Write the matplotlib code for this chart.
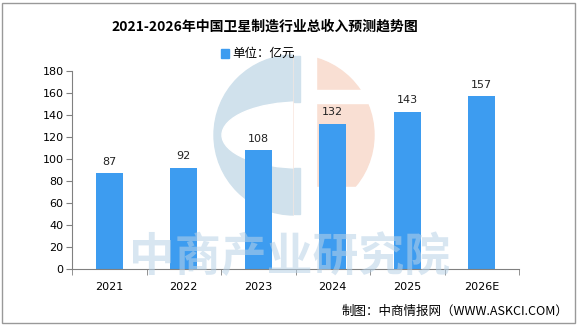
import matplotlib
matplotlib.use("Agg")
import matplotlib.pyplot as plt
from matplotlib.patches import Wedge, Rectangle, Ellipse
import numpy as np

plt.rcParams['font.family'] = ['Noto Sans CJK SC', 'DejaVu Sans']

years = ["2021", "2022", "2023", "2024", "2025", "2026E"]
revenue = [87, 92, 108, 132, 143, 157]
yticks = [0, 20, 40, 60, 80, 100, 120, 140, 160, 180]

BAR = "#3d9cf0"
GREY = "#808080"
LOGO_B = "#d0e1ec"
LOGO_O = "#f9dfd3"

fig = plt.figure(figsize=(5.85, 3.27), dpi=100)
W, H = 585, 327

# 背景水印 logo (像素坐标, y 向下)
wax = fig.add_axes([0, 0, 1, 1], zorder=0)
wax.set_xlim(0, W); wax.set_ylim(H, 0); wax.axis("off")
cx, cy, r = 294, 135, 80
wax.add_patch(Wedge((cx, cy), r, 90, 270, color=LOGO_B))
wax.add_patch(Ellipse((300, cy), 156, 66, color="white"))
wax.add_patch(Wedge((cx, cy), r, -90, 90, color=LOGO_O))
wax.add_patch(Rectangle((cx, 40), 22, 190, color="white"))
wax.add_patch(Rectangle((316, 90), 52, 13, color="white"))
wax.add_patch(Rectangle((cx + 6, 187), 100, 40, color="white"))
wax.add_patch(Rectangle((cx, cy - r + 1), 6, 102 - (cy - r + 1), color=LOGO_B))
wax.add_patch(Rectangle((cx, 168), 6, cy + r - 1 - 168, color=LOGO_B))

ax = fig.add_axes([72 / W, 1 - 269 / H, (519 - 72) / W, (269 - 71) / H], zorder=1)
ax.patch.set_alpha(0)
x = np.arange(len(years))
ax.bar(x, revenue, width=0.36, color=BAR, zorder=2)
for xi, v in zip(x, revenue):
    ax.text(xi, v + 6, str(v), ha="center", va="bottom", fontsize=8,
            family="DejaVu Sans", color="#222222")

ax.set_xlim(-0.5, len(years) - 0.5)
ax.set_ylim(0, 180)
ax.set_yticks(yticks)
ax.set_yticklabels([str(t) for t in yticks], fontsize=8, family="DejaVu Sans")
ax.set_xticks(x)
ax.set_xticklabels(years, fontsize=8, family="DejaVu Sans")
ax.tick_params(axis="x", length=0, pad=9)
ax.set_xticks(np.arange(-0.5, len(years)), minor=True)
ax.tick_params(axis="x", which="minor", length=4, color=GREY)
ax.tick_params(axis="y", length=4, color=GREY, pad=2)
for s in ["top", "right"]:
    ax.spines[s].set_visible(False)
for s in ["left", "bottom"]:
    ax.spines[s].set_color(GREY)

# 文字水印
fig.text(290 / W, 1 - 258 / H, "中商产业研究院", ha="center", va="center",
         fontsize=33, fontweight="bold", color="#b8d2e7", alpha=0.55, zorder=3)

fig.text(265 / W, 1 - 27 / H, "2021-2026年中国卫星制造行业总收入预测趋势图",
         ha="center", va="center", fontsize=10, fontweight="bold")
fig.patches.append(Rectangle((221 / W, 1 - 58 / H), 8 / W, 9 / H, color=BAR,
                             transform=fig.transFigure, figure=fig))
fig.text(232 / W, 1 - 53 / H, "单位：亿元", ha="left", va="center", fontsize=9)
fig.text(568 / W, 1 - 311 / H, "制图：中商情报网（WWW.ASKCI.COM）",
         ha="right", va="center", fontsize=9)

# 外框
fig.patches.append(Rectangle((2 / W, 4 / H), 573 / W, 320 / H, fill=False,
                             edgecolor="#999999", lw=1, transform=fig.transFigure, figure=fig))

fig.savefig("out.png", dpi=100)
